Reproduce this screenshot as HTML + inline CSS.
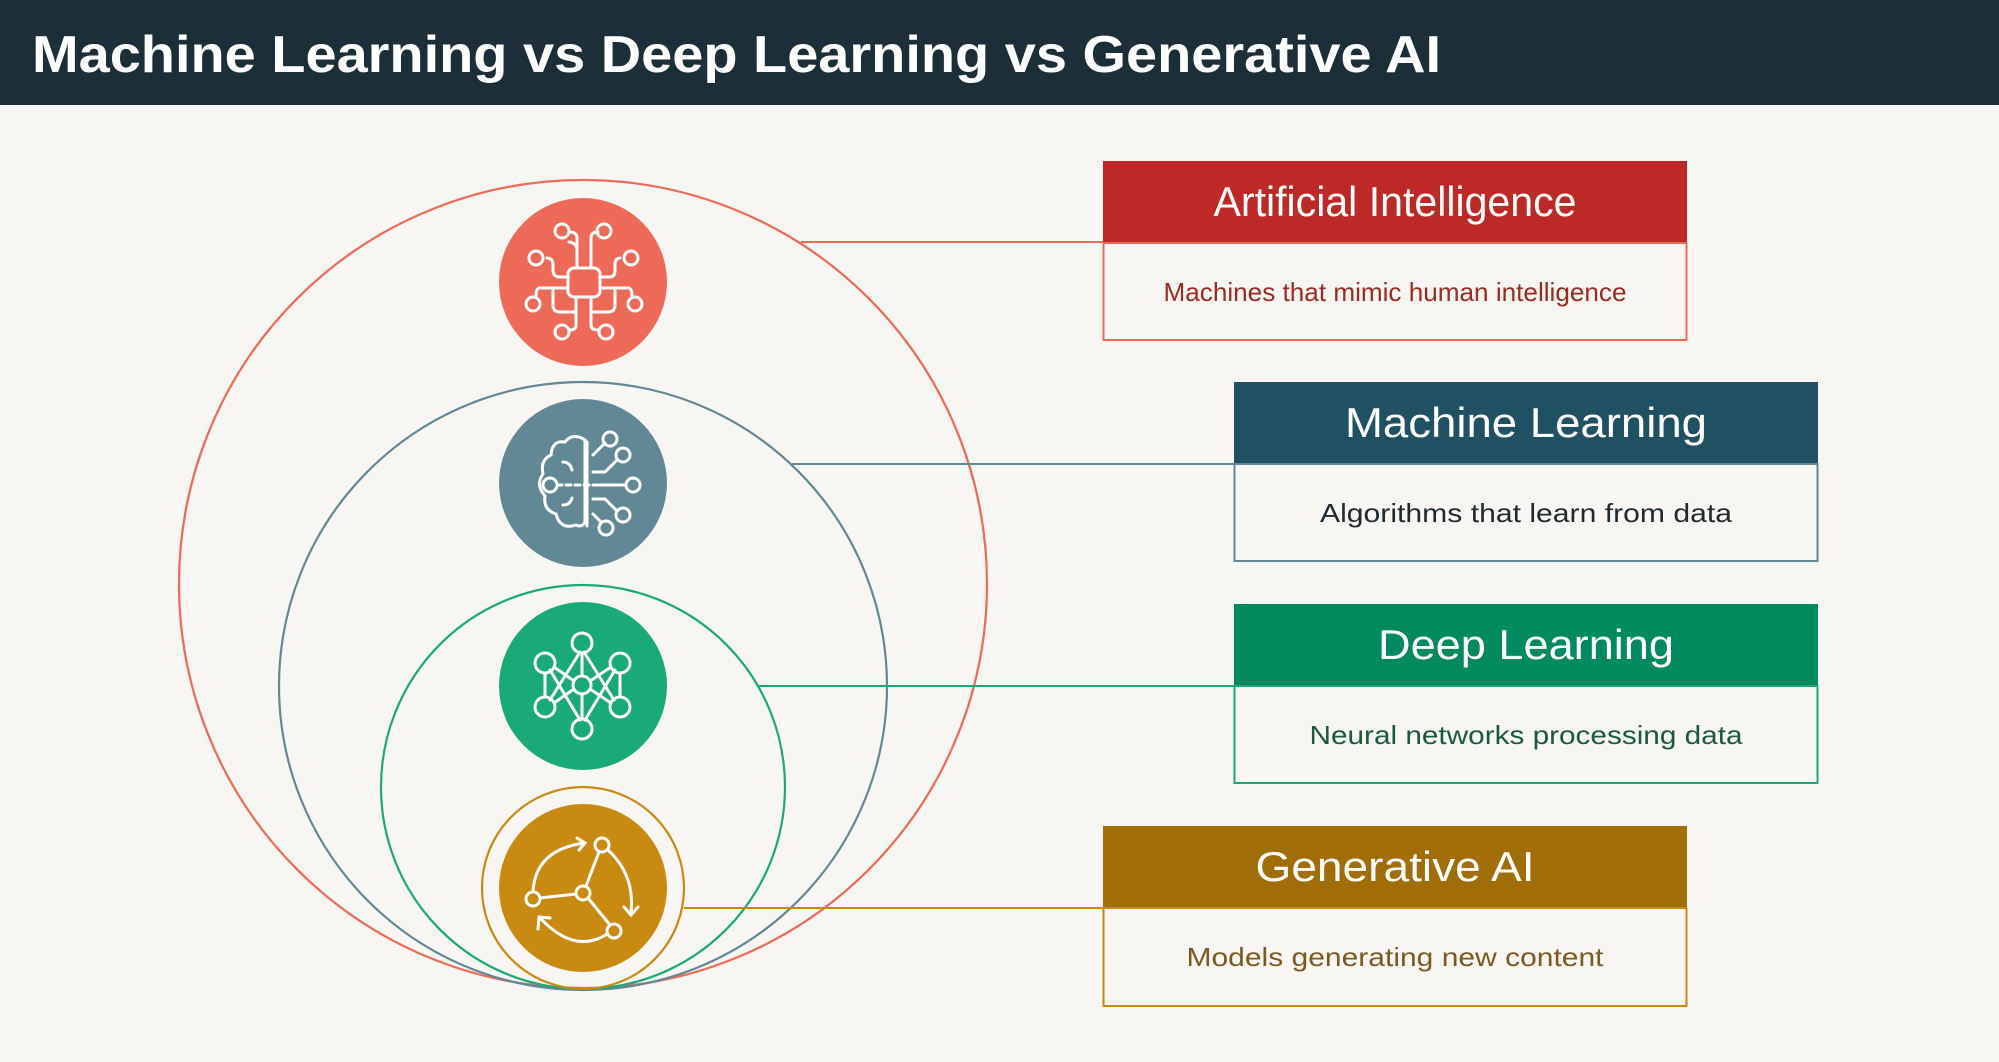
<!DOCTYPE html>
<html><head><meta charset="utf-8"><style>
html,body{margin:0;padding:0;background:#f8f6f2;}
svg{display:block;font-family:"Liberation Sans",sans-serif;}
</style></head><body>
<svg width="1999" height="1062" viewBox="0 0 1999 1062" xmlns="http://www.w3.org/2000/svg">
<rect width="1999" height="1062" fill="#f8f6f2"/>
<rect width="1999" height="105" fill="#1c2e38"/>
<text x="32" y="72" font-size="52" font-weight="bold" fill="#fff" textLength="1409" lengthAdjust="spacingAndGlyphs">Machine Learning vs Deep Learning vs Generative AI</text>

<!-- nested circles -->
<circle cx="583" cy="584" r="404" fill="none" stroke="#ee6a58" stroke-width="2.2"/>
<circle cx="583" cy="686" r="304" fill="none" stroke="#628896" stroke-width="2.2"/>
<circle cx="583" cy="787" r="202" fill="none" stroke="#1aaa78" stroke-width="2.2"/>
<circle cx="583" cy="888" r="101" fill="none" stroke="#c98a12" stroke-width="2.2"/>

<!-- connectors -->
<line x1="801" y1="242" x2="1103" y2="242" stroke="#ee6a58" stroke-width="2"/>
<line x1="792" y1="464" x2="1234" y2="464" stroke="#628896" stroke-width="2"/>
<line x1="759" y1="686" x2="1234" y2="686" stroke="#1aaa78" stroke-width="2"/>
<line x1="684" y1="908" x2="1103" y2="908" stroke="#c98a12" stroke-width="2"/>

<!-- icon circles -->
<circle cx="583" cy="282" r="84" fill="#ee6a58"/>
<circle cx="583" cy="483" r="84" fill="#628896"/>
<circle cx="583" cy="686" r="84" fill="#1aaa78"/>
<circle cx="583" cy="888" r="84" fill="#c98a12"/>

<!-- AI icon -->
<g fill="none" stroke="#fff" stroke-width="3" stroke-linecap="round">
<rect x="568" y="268" width="32" height="29" rx="6"/>
<path d="M577 268 V250 a8 8 0 0 0 -8 -8 h0"/>
<circle cx="562" cy="231" r="7"/>
<path d="M577 250 V238 Q577 232 569 232"/>
<path d="M591 268 V238 Q591 232 598 232"/>
<circle cx="604" cy="231" r="7"/>
<path d="M568 277 H560 Q553 277 553 270 V265 Q553 258 547 258"/>
<circle cx="536" cy="258" r="7"/>
<path d="M600 277 H610 Q615 277 615 270 V265 Q615 258 620 258"/>
<circle cx="631" cy="258" r="7"/>
<path d="M568 288 H540 Q536 288 536 296"/>
<circle cx="533" cy="304" r="7"/>
<path d="M600 288 H628 Q632 288 632 296"/>
<circle cx="635" cy="304" r="7"/>
<path d="M576 297 V325 Q576 330 570 330"/>
<circle cx="562" cy="332" r="7"/>
<path d="M591 297 V325 Q591 330 598 330"/>
<circle cx="606" cy="332" r="7"/>
<path d="M553 288 V305 Q553 312 560 312 H576"/>
<path d="M615 288 V305 Q615 312 608 312 H591"/>
</g>

<!-- ML brain icon -->
<g fill="none" stroke="#fff" stroke-width="3" stroke-linecap="round">
<path d="M585 440 Q573 432 565 442 Q552 440 551 455 Q540 460 543 474 Q535 485 545 496 Q543 510 556 514 Q560 530 576 525 Q582 528 585 522 Z"/>
<path d="M587 442 V526"/>
<circle cx="550" cy="485" r="7"/>
<path d="M557 485 H600" stroke-dasharray="5 4"/>
<path d="M600 485 H626"/><circle cx="633" cy="485" r="7"/>
<path d="M593 472 H605 L617 460"/><circle cx="623" cy="455" r="7"/>
<path d="M593 455 L605 443"/><circle cx="610" cy="439" r="7"/>
<path d="M593 499 H605 L617 511"/><circle cx="623" cy="515" r="7"/>
<path d="M593 514 L601 522"/><circle cx="606" cy="528" r="7"/>
<path d="M563 462 Q570 462 572 470"/>
<path d="M563 505 Q570 505 572 498"/>
</g>

<!-- DL icon -->
<g fill="none" stroke="#fff" stroke-width="3" stroke-linecap="round">
<circle cx="582" cy="685" r="9"/>
<circle cx="582" cy="643" r="10"/>
<circle cx="545" cy="663" r="10"/>
<circle cx="620" cy="663" r="10"/>
<circle cx="545" cy="707" r="10"/>
<circle cx="620" cy="707" r="10"/>
<circle cx="582" cy="729" r="10"/>
<path d="M582 653 L582 676 M582 694 L582 719 M545 673 L545 697 M620 673 L620 697"/>
<path d="M554 667 L574 681 M590 689 L611 703 M554 703 L574 689 M590 681 L611 667"/>
<path d="M580 652 L550 700 M584 652 L614 700 M550 670 L580 720 M615 670 L585 720"/>
</g>

<!-- GenAI icon -->
<g fill="none" stroke="#fff" stroke-width="3" stroke-linecap="round">
<circle cx="602" cy="845" r="7"/>
<circle cx="583" cy="893" r="7"/>
<circle cx="533" cy="899" r="7"/>
<circle cx="614" cy="931" r="7"/>
<path d="M599 852 L586 886 M576 894 L540 898 M588 898 L610 925"/>
<path d="M533 892 Q535 850 584 843 M577 838 L585 843 L579 850"/>
<path d="M608 850 Q635 875 631 912 M624 907 L631 915 L638 907"/>
<path d="M607 934 Q575 955 540 918 M538 929 L539 917 L550 918"/>
</g>

<!-- Boxes -->
<rect x="1103" y="161" width="584" height="82" fill="#bd2926"/>
<rect x="1103.5" y="243" width="583" height="97" fill="#f8f6f2" stroke="#ee6a58" stroke-width="2"/>
<text x="1395" y="216" font-size="42" fill="#fff" text-anchor="middle" textLength="363" lengthAdjust="spacingAndGlyphs">Artificial Intelligence</text>
<text x="1395" y="301" font-size="26" fill="#9b2a22" text-anchor="middle" textLength="463" lengthAdjust="spacingAndGlyphs">Machines that mimic human intelligence</text>

<rect x="1234" y="382" width="584" height="82" fill="#1f5163"/>
<rect x="1234.5" y="464" width="583" height="97" fill="#f8f6f2" stroke="#628896" stroke-width="2"/>
<text x="1526" y="437" font-size="42" fill="#fff" text-anchor="middle" textLength="362" lengthAdjust="spacingAndGlyphs">Machine Learning</text>
<text x="1526" y="522" font-size="26" fill="#1f2a30" text-anchor="middle" textLength="412" lengthAdjust="spacingAndGlyphs">Algorithms that learn from data</text>

<rect x="1234" y="604" width="584" height="82" fill="#008a5e"/>
<rect x="1234.5" y="686" width="583" height="97" fill="#f8f6f2" stroke="#1aaa78" stroke-width="2"/>
<text x="1526" y="659" font-size="42" fill="#fff" text-anchor="middle" textLength="296" lengthAdjust="spacingAndGlyphs">Deep Learning</text>
<text x="1526" y="744" font-size="26" fill="#1b5a3a" text-anchor="middle" textLength="433" lengthAdjust="spacingAndGlyphs">Neural networks processing data</text>

<rect x="1103" y="826" width="584" height="82" fill="#a06d08"/>
<rect x="1103.5" y="908" width="583" height="98" fill="#f8f6f2" stroke="#c98a12" stroke-width="2"/>
<text x="1395" y="881" font-size="42" fill="#fff" text-anchor="middle" textLength="279" lengthAdjust="spacingAndGlyphs">Generative AI</text>
<text x="1395" y="966" font-size="26" fill="#7a5a20" text-anchor="middle" textLength="417" lengthAdjust="spacingAndGlyphs">Models generating new content</text>
</svg>
</body></html>
